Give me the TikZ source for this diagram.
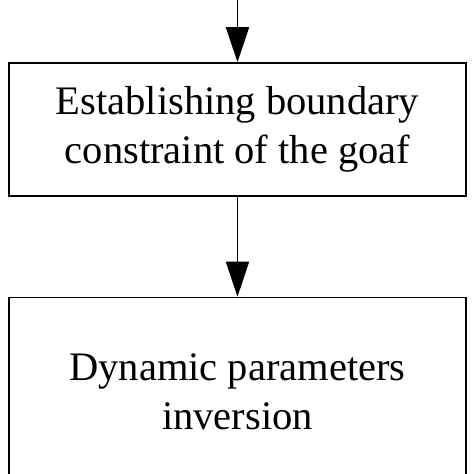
\documentclass[tikz,border=0pt]{standalone}
\usepackage{fontspec}
\setmainfont{Liberation Serif}
\usetikzlibrary{arrows.meta,positioning}
\begin{document}
\begin{tikzpicture}[x=1pt,y=1pt,
  stepbox/.style={draw, line width=1.5pt, minimum width=457pt, align=center,
    font=\fontsize{40.5}{49}\selectfont, inner sep=0pt},
  flow/.style={line width=1.5pt, -{Triangle[length=35pt,width=23pt]}}]
\useasboundingbox (0,0) rectangle (474,474);
\clip (0,0) rectangle (474,474);
\node[stepbox, minimum height=133pt] (bound) at (237.5,344.5) {Establishing boundary\\constraint of the goaf};
\node[stepbox, minimum height=188pt, below=100pt of bound] (inv) {Dynamic parameters\\inversion};
\coordinate (top) at (237.5,474);
\draw[flow] (top) -- (bound);
\draw[flow] (bound) -- (inv);
\end{tikzpicture}
\end{document}
